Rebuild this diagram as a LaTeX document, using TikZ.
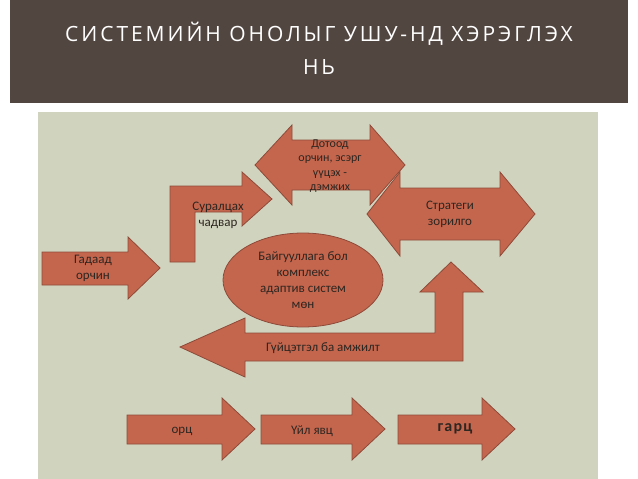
\documentclass[tikz,border=0pt]{standalone}
\usepackage{fontspec}
\usetikzlibrary{shapes.geometric}
\setmainfont{Carlito}
\newfontfamily\titlefont[LetterSpace=14]{Open Sans}
\definecolor{titlebg}{HTML}{524641}
\definecolor{panel}{HTML}{D0D4BF}
\definecolor{salmon}{HTML}{C4664E}
\definecolor{salmonline}{HTML}{8E4A38}
\definecolor{ink}{HTML}{2E2620}
\tikzset{
  shp/.style={fill=salmon, draw=salmonline, line width=0.8pt, line join=miter},
  lbl/.style={text=ink, font=\fontsize{13}{16}\selectfont, align=center},
}
\begin{document}
\begin{tikzpicture}[x=1pt,y=-1pt]
\useasboundingbox (0,0) rectangle (638,479);
\fill[white] (0,0) rectangle (638,479);
\fill[titlebg] (10,0) rectangle (628,103);
\fill[panel] (38,112) rectangle (598,479);
\node[text=white, font=\titlefont\fontsize{21}{33}\selectfont, align=center] (title) at (319,48) {СИСТЕМИЙН ОНОЛЫГ УШУ-НД ХЭРЭГЛЭХ\\НЬ};

% arrows
\draw[shp] (42,252) -- (128,252) -- (128,237) -- (160,268) -- (128,299) -- (128,285) -- (42,285) -- cycle;
\draw[shp] (170,262) -- (170,186) -- (242,186) -- (242,172) -- (272,199) -- (242,226) -- (242,212) -- (195,212) -- (195,262) -- cycle;
\draw[shp] (255,165) -- (292,125) -- (292,140) -- (370,140) -- (370,125) -- (405,165) -- (370,205) -- (370,190) -- (292,190) -- (292,205) -- cycle;
\draw[shp] (367,214) -- (400,172) -- (400,188) -- (500,188) -- (500,172) -- (535,214) -- (500,256) -- (500,240) -- (400,240) -- (400,256) -- cycle;
\draw[shp] (180,347) -- (245,318) -- (245,333) -- (435,333) -- (435,292) -- (420,292) -- (451,262) -- (483,292) -- (463,292) -- (463,361) -- (245,361) -- (245,377) -- cycle;
\foreach \a/\h/\b in {127/222/255, 261/352/385, 398/482/515}
  \draw[shp] (\a,415) -- (\h,415) -- (\h,398) -- (\b,429) -- (\h,460) -- (\h,444) -- (\a,444) -- cycle;
\node[ellipse, shp, minimum width=160, minimum height=94] (org) at (303,280) {};

% labels
\node[lbl] (gadaad) at (93,268) {Гадаад\\орчин};
\node[lbl] (suralts) at (218,215) {Суралцах\\чадвар};
\node[lbl, font=\fontsize{12}{14.5}\selectfont] (dotood) at (330,166) {Дотоод\\орчин, эсэрг\\үүцэх -\\дэмжих};
\node[lbl] (strat) at (450,214) {Стратеги\\зорилго};
\node[lbl] (orgtext) at (org) {Байгууллага бол\\комплекс\\адаптив систем\\мөн};
\node[lbl] (guits) at (323,348) {Гүйцэтгэл ба амжилт};
\node[lbl] (orts) at (182,431) {орц};
\node[lbl] (uil) at (312,431) {Үйл явц};
\node[lbl, font=\fontsize{16}{18}\selectfont\addfontfeature{LetterSpace=8}\bfseries] (garts) at (455,429) {гарц};
\end{tikzpicture}
\end{document}
